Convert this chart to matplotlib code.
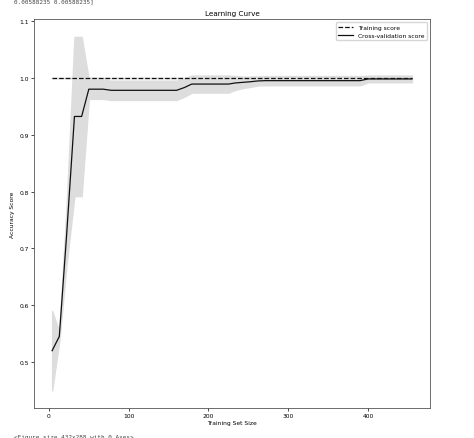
import numpy as np
import matplotlib
matplotlib.use("Agg")
import matplotlib.pyplot as plt

# training set sizes (learning_curve output)
train_sizes = [4, 13, 22, 32, 41, 50, 59, 68, 78, 87, 96, 105, 114, 124, 133,
               142, 151, 160, 170, 179, 188, 197, 206, 216, 225, 234, 243, 252,
               262, 271, 280, 289, 298, 308, 317, 326, 335, 344, 354, 363, 372,
               381, 390, 400, 409, 418, 427, 436, 446, 455]

train_mean = [1.0] * 50
train_std = [0.0] * 50

test_mean = [0.520, 0.545, 0.720, 0.932, 0.932, 0.980, 0.980, 0.980, 0.978, 0.978,
             0.978, 0.978, 0.978, 0.978, 0.978, 0.978, 0.978, 0.978, 0.983, 0.989,
             0.989, 0.989, 0.989, 0.989, 0.989, 0.991, 0.992, 0.993, 0.9945, 0.995,
             0.995, 0.995, 0.995, 0.995, 0.995, 0.995, 0.995, 0.995, 0.995, 0.995,
             0.995, 0.995, 0.995, 0.998, 0.998, 0.998, 0.998, 0.998, 0.998, 0.998]
test_std = [0.070, 0.008, 0.050, 0.140, 0.140, 0.017, 0.017, 0.017, 0.017, 0.017,
            0.017, 0.017, 0.017, 0.017, 0.017, 0.017, 0.017, 0.017, 0.016, 0.015,
            0.015, 0.015, 0.015, 0.015, 0.015, 0.012, 0.010, 0.009, 0.008, 0.008,
            0.008, 0.008, 0.008, 0.008, 0.008, 0.008, 0.008, 0.008, 0.008, 0.008,
            0.008, 0.008, 0.008, 0.0059, 0.0059, 0.0059, 0.0059, 0.0059, 0.0059, 0.0059]

train_mean = np.array(train_mean)
train_std = np.array(train_std)
test_mean = np.array(test_mean)
test_std = np.array(test_std)

fig = plt.figure(figsize=(4.74, 4.39), dpi=100)
ax = fig.add_axes([0.072, 0.068, 0.835, 0.886])

ax.plot(train_sizes, train_mean, '--', color="#111111", linewidth=0.9, label="Training score")
ax.plot(train_sizes, test_mean, color="#111111", linewidth=0.9, label="Cross-validation score")

ax.fill_between(train_sizes, train_mean - train_std, train_mean + train_std, color="#DDDDDD")
ax.fill_between(train_sizes, test_mean - test_std, test_mean + test_std, color="#DDDDDD")

ax.set_title("Learning Curve", fontsize=5.2, pad=3)
ax.set_xlabel("Training Set Size", fontsize=4.3, labelpad=1.5)
ax.set_ylabel("Accuracy Score", fontsize=4.3, labelpad=3)
ax.tick_params(labelsize=4.3, length=2, width=0.5, pad=1.5)
for s in ax.spines.values():
    s.set_linewidth(0.6)
    s.set_color("#555555")
ax.legend(loc="best", fontsize=4.3, handlelength=2.5)

# notebook text around the figure
fig.text(0.03, 0.995, "0.00588235 0.00588235]", fontsize=4.3, family="monospace",
         color="#444444", va="center")
fig.text(0.03, 0.003, "<Figure size 432x288 with 0 Axes>", fontsize=4.3, family="monospace",
         color="#444444", va="center")

fig.savefig("out.png", dpi=100)
